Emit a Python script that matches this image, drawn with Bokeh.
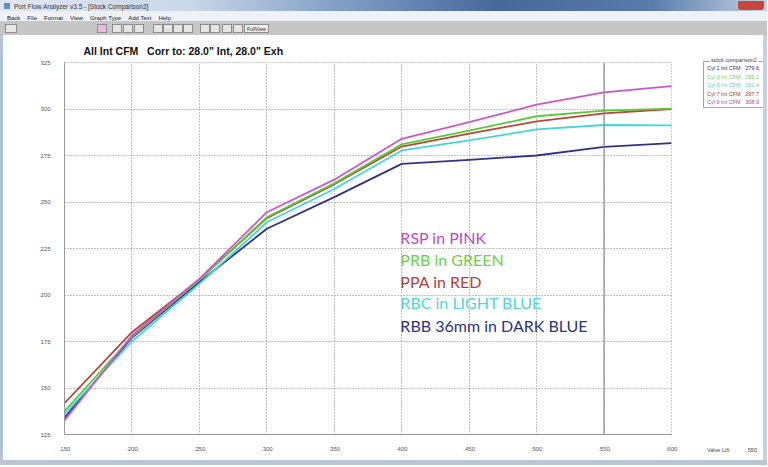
from bokeh.plotting import figure
from bokeh.models import (Range1d, FixedTicker, CustomJSTickFormatter, Span, Label, Div)
from bokeh.layouts import column, row
from bokeh.embed import file_html
from bokeh.resources import INLINE

# ---------------- data ----------------
lift = [0.150, 0.200, 0.250, 0.300, 0.350, 0.400, 0.450, 0.500, 0.550, 0.600]
rsp_pink = [132.5, 178.2, 208.7, 244.5, 262.0, 284.0, 292.9, 302.3, 308.9, 312.3]
prb_green = [137.5, 177.5, 208.0, 241.8, 260.0, 281.0, 288.4, 296.1, 299.1, 300.2]
ppa_red = [141.8, 180.0, 208.3, 241.3, 259.5, 279.8, 286.7, 293.4, 297.7, 300.0]
rbc_lightblue = [136.0, 175.0, 206.0, 239.1, 257.0, 277.7, 283.1, 289.0, 291.4, 291.2]
rbb_darkblue = [134.0, 177.0, 207.0, 235.6, 252.6, 270.5, 272.7, 275.0, 279.6, 281.6]

x_ticks = [0.150, 0.200, 0.250, 0.300, 0.350, 0.400, 0.450, 0.500, 0.550, 0.600]
y_ticks = [125, 150, 175, 200, 225, 250, 275, 300, 325]

cursor_lift = 0.550
legend_title = "stock comparison2"
legend_names = ["Cyl 1 Int CFM", "Cyl 3 Int CFM", "Cyl 5 Int CFM", "Cyl 7 Int CFM", "Cyl 9 Int CFM"]
legend_series = [rbb_darkblue, prb_green, rbc_lightblue, ppa_red, rsp_pink]
legend_colors = ["#2a2f60", "#6ccf55", "#46cfd6", "#9a3a32", "#b040b8"]

notes = ["RSP in PINK", "PRB in GREEN", "PPA in RED", "RBC in LIGHT BLUE", "RBB 36mm in DARK BLUE"]
note_colors = ["#c447c9", "#6ccf48", "#b3403a", "#4fd4dc", "#2b3384"]

title_text = 'All Int CFM\u00a0\u00a0 Corr to: 28.0" Int, 28.0" Exh'
window_title = "Port Flow Analyzer v3.5 - [Stock Comparison2]"
menu_items = ["Back", "File", "Format", "View", "Graph Type", "Add Text", "Help"]

# ---------------- window chrome ----------------
TOTAL_W = 767
FIG_H = 425
FONT = "Liberation Sans, Arial, sans-serif"

titlebar = Div(
    text=f'<div style="position:relative;width:{TOTAL_W}px;height:11px;overflow:hidden;">'
         f'<span style="position:absolute;left:4px;top:2px;width:6px;height:6px;background:#6a8cc0;"></span>'
         f'<span style="position:absolute;left:14px;top:0px;font:6.5px {FONT};color:#334;line-height:11px;">{window_title}</span>'
         f'<span style="position:absolute;left:738px;top:0px;width:26px;height:9px;background:#c9463b;border-radius:0 0 3px 3px;"></span>'
         '</div>',
    width=TOTAL_W, height=11, margin=0,
    styles={"background": "linear-gradient(to right,#dfe7f1 0%,#c9d7e8 25%,#7f9cc3 45%,#46679a 65%,#5a7cab 85%,#c3d2e4 100%)"})

menu_html = "".join(f'<span style="margin-right:7px;">{m}</span>' for m in menu_items)
menubar = Div(
    text=f'<div style="width:{TOTAL_W}px;height:10px;overflow:hidden;font:6px {FONT};color:#222;'
         f'padding-left:7px;line-height:10px;white-space:nowrap;">{menu_html}</div>',
    width=TOTAL_W, height=10, margin=0, styles={"background": "#eef1f5"})


def button(left, w=10, bg="#e6e6e6"):
    return (f'<span style="position:absolute;left:{left}px;top:3px;width:{w}px;height:9px;'
            f'background:{bg};border:1px solid #8e8e8e;box-sizing:border-box;"></span>')


tb = button(5, 12)
for i, lx in enumerate([97, 112, 123, 134, 153, 163, 173, 183, 200, 210, 222, 233]):
    tb += button(lx, 10, "#e9b9e0" if i == 0 else "#e6e6e6")
tb += (f'<span style="position:absolute;left:244px;top:3px;height:9px;padding:0 2px;background:#ececec;'
       f'border:1px solid #8e8e8e;box-sizing:border-box;font:5px {FONT};line-height:8px;color:#333;">FullView</span>')
toolbar = Div(
    text=f'<div style="position:relative;width:{TOTAL_W}px;height:14px;overflow:hidden;">{tb}</div>',
    width=TOTAL_W, height=14, margin=0, styles={"background": "#c6c6c6"})

left_strip = Div(text="", width=3, height=FIG_H, margin=0, styles={"background": "#b4c3d4"})
right_strip = Div(text="", width=4, height=FIG_H, margin=0, styles={"background": "#c5d1de"})
bottom_strip = Div(text="", width=TOTAL_W, height=5, margin=0, styles={"background": "#b9c6d4"})

# ---------------- main figure ----------------
p = figure(width=700, height=FIG_H, output_backend="svg", toolbar_location=None,
           x_range=Range1d(0.150, 0.600), y_range=Range1d(125, 325),
           min_border_left=61, min_border_right=32, min_border_top=27, min_border_bottom=26,
           background_fill_color="white", border_fill_color="white")

p.title.text = title_text
p.title.text_font = "Liberation Sans"
p.title.text_font_style = "bold"
p.title.text_font_size = "10.5px"
p.title.align = "left"
p.title.offset = 19
p.title.standoff = 11
p.title.text_color = "#111111"

p.xaxis.ticker = FixedTicker(ticks=x_ticks)
p.yaxis.ticker = FixedTicker(ticks=y_ticks)
p.xaxis.formatter = CustomJSTickFormatter(code="return tick.toFixed(3).replace(/^0/, '')")
for ax in (p.xaxis, p.yaxis):
    ax.axis_line_color = "#9a9a9a"
    ax.axis_line_width = 1
    ax.major_tick_line_color = None
    ax.minor_tick_line_color = None
    ax.major_label_text_font = "Liberation Sans"
    ax.major_label_text_font_size = "6px"
    ax.major_label_text_color = "#555555"
p.xaxis.major_label_standoff = 6
p.yaxis.major_label_standoff = 8

p.grid.grid_line_color = "#808080"
p.grid.grid_line_dash = "1 2"
p.grid.grid_line_width = 1
p.outline_line_color = "#9a9a9a"
p.outline_line_dash = "1 2"

p.add_layout(Span(location=cursor_lift, dimension="height", line_color="#8c8c8c", line_width=1.2))

series = [(rbb_darkblue, "#2e3388"), (rbc_lightblue, "#44d4dc"), (ppa_red, "#b8453a"),
          (prb_green, "#58cc38"), (rsp_pink, "#cc55cc")]
for ys, col in series:
    p.line(lift, ys, line_color=col, line_width=1.8)

note_y = [230.9, 219.1, 207.3, 196.0, 183.6]
for t, c, yv in zip(notes, note_colors, note_y):
    p.add_layout(Label(x=0.399, y=yv, text=t, text_color=c, text_font="Lato",
                       text_font_size="16px", text_baseline="middle"))

# ---------------- right side panel (legend group box + readout) ----------------
idx = lift.index(cursor_lift)
txt = f"font:5.5px {FONT};line-height:7px;white-space:nowrap;position:absolute;"
side = (f'<div style="position:relative;width:60px;height:{FIG_H}px;overflow:hidden;background:white;">'
        f'<div style="position:absolute;left:0px;top:26px;width:70px;height:47px;border:1px solid #a8a8a8;box-sizing:border-box;"></div>'
        f'<span style="{txt}left:7px;top:22px;background:white;padding:0 1px;color:#444;">{legend_title}</span>')
leg_top = [30, 38.5, 47, 55.5, 63.5]
for name, ys, col, top in zip(legend_names, legend_series, legend_colors, leg_top):
    side += f'<span style="{txt}left:4px;top:{top}px;color:{col};">{name}</span>'
    side += f'<span style="{txt}right:4px;top:{top}px;color:{col};">{ys[idx]:.1f}</span>'
side += f'<span style="{txt}left:4px;top:412px;color:#444;">Valve Lift</span>'
side += f'<span style="{txt}right:6px;top:412px;color:#444;">{f"{cursor_lift:.3f}".lstrip("0")}</span>'
side += '</div>'
side_panel = Div(text=side, width=60, height=FIG_H, margin=0)

body = row(left_strip, p, side_panel, right_strip, spacing=0)
layout = column(titlebar, menubar, toolbar, body, bottom_strip, spacing=0)
open("out.html", "w").write(file_html(layout, INLINE))
